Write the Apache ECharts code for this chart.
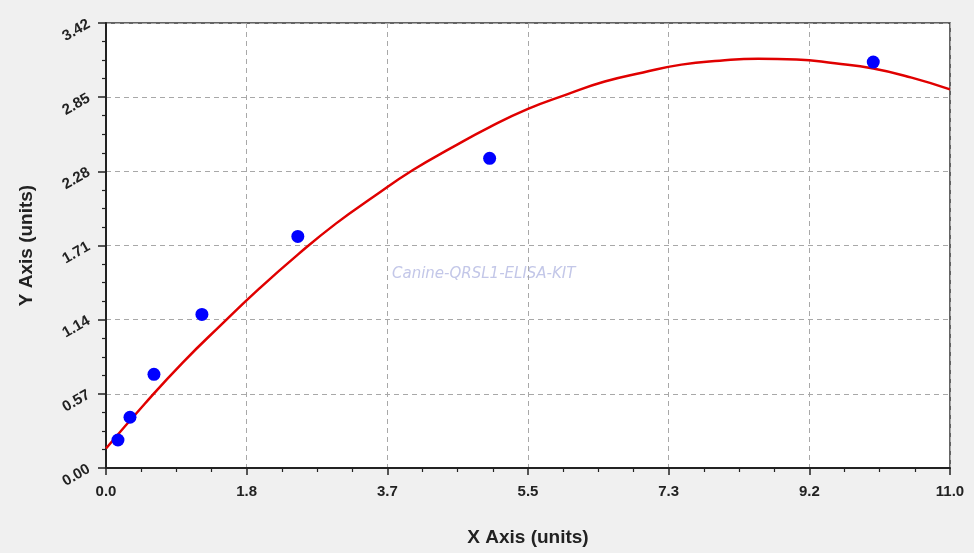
<!DOCTYPE html>
<html>
<head>
<meta charset="utf-8">
<script src="https://cdn.jsdelivr.net/npm/echarts@6/dist/echarts.min.js"></script>
<style>
html,body{margin:0;padding:0;background:#f0f0f0;}
#c{width:974px;height:553px;}
</style>
</head>
<body>
<div id="c"></div>
<script>
// Measured standards (x concentration, y OD)
const pointX = [0.156, 0.3125, 0.625, 1.25, 2.5, 5, 10];
const pointY = [0.215, 0.39, 0.72, 1.18, 1.78, 2.38, 3.12];
// Fitted curve at sample positions
const curveX = [0, 0.5, 1, 1.5, 2, 2.5, 3, 3.5, 4, 4.5, 5, 5.5, 6, 6.5, 7, 7.5, 8, 8.5, 9, 9.5, 10, 10.5, 11];
const curveY = [0.15, 0.49, 0.81, 1.10, 1.38, 1.64, 1.88, 2.09, 2.29, 2.46, 2.62, 2.76, 2.87, 2.97, 3.04, 3.10, 3.13, 3.145, 3.14, 3.11, 3.07, 3.00, 2.91];
const xTickLabels = ['0.0', '1.8', '3.7', '5.5', '7.3', '9.2', '11.0'];
const yTickLabels = ['0.00', '0.57', '1.14', '1.71', '2.28', '2.85', '3.42'];
const watermark = 'Canine-QRSL1-ELISA-KIT';

const chart = echarts.init(document.getElementById('c'));
const xInt = 11 / 6;
chart.setOption({
  backgroundColor: '#f0f0f0',
  animation: false,
  grid: {left: 106, right: 24, top: 23, bottom: 85, show: true, backgroundColor: '#ffffff', borderColor: '#333', borderWidth: 1.5},
  graphic: [{
    type: 'text', left: 392, top: 267,
    style: {text: watermark, fill: '#c3c7e8', font: 'oblique 15px "DejaVu Sans", sans-serif'}
  }],
  xAxis: {
    type: 'value', min: 0, max: 11, interval: xInt,
    name: 'X Axis (units)', nameLocation: 'middle', nameGap: 60,
    nameTextStyle: {fontFamily: 'Liberation Sans, Arial', fontWeight: 'bold', fontSize: 19, color: '#222'},
    axisLine: {show: true, onZero: false, lineStyle: {color: '#222', width: 2}},
    axisTick: {show: true, length: 7, lineStyle: {color: '#222', width: 1.5}},
    minorTick: {show: true, splitNumber: 4, length: 4, lineStyle: {color: '#222', width: 1.2}},
    axisLabel: {
      margin: 16, fontFamily: 'Liberation Sans, Arial', fontWeight: 'bold', fontSize: 15, color: '#222',
      formatter: function (v) { const i = Math.round(v / xInt); return xTickLabels[i] !== undefined ? xTickLabels[i] : ''; }
    },
    splitLine: {show: true, lineStyle: {color: '#a8a8a8', type: [5, 4], width: 1}}
  },
  yAxis: {
    type: 'value', min: 0, max: 3.42, interval: 0.57,
    name: 'Y Axis (units)', nameLocation: 'middle', nameGap: 70,
    nameTextStyle: {fontFamily: 'Liberation Sans, Arial', fontWeight: 'bold', fontSize: 19, color: '#222'},
    axisLine: {show: true, onZero: false, lineStyle: {color: '#222', width: 2}},
    axisTick: {show: true, length: 8, lineStyle: {color: '#222', width: 1.5}},
    minorTick: {show: true, splitNumber: 4, length: 4, lineStyle: {color: '#222', width: 1.2}},
    axisLabel: {
      margin: 17, rotate: 30, fontFamily: 'Liberation Sans, Arial', fontWeight: 'bold', fontSize: 15, color: '#222',
      formatter: function (v) { const i = Math.round(v / 0.57); return yTickLabels[i] !== undefined ? yTickLabels[i] : ''; }
    },
    splitLine: {show: true, lineStyle: {color: '#a8a8a8', type: [5, 4], width: 1}}
  },
  series: [
    {
      type: 'line', data: curveX.map((x, i) => [x, curveY[i]]), smooth: true, showSymbol: false,
      lineStyle: {color: '#e00000', width: 2.5}, z: 2
    },
    {
      type: 'scatter', data: pointX.map((x, i) => [x, pointY[i]]), symbol: 'circle', symbolSize: 13,
      itemStyle: {color: '#0000ff', opacity: 1}, z: 3
    }
  ]
});
</script>
</body>
</html>
